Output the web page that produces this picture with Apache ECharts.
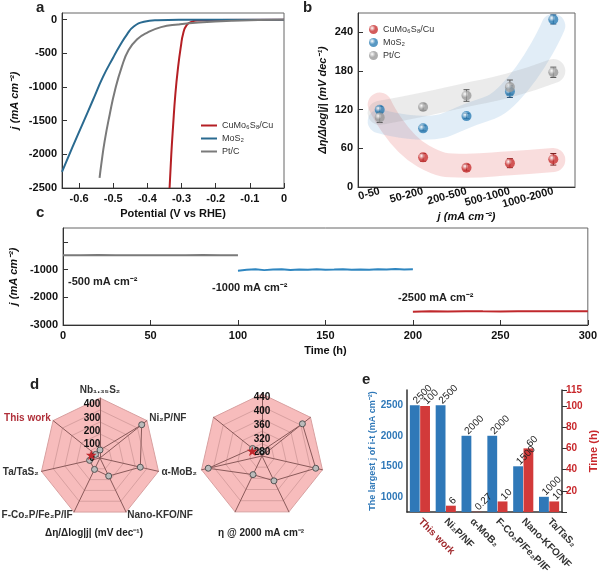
<!DOCTYPE html>
<html><head><meta charset="utf-8">
<script src="https://cdn.jsdelivr.net/npm/echarts@6/dist/echarts.min.js"></script>
<style>html,body{margin:0;background:#fff}#main{width:600px;height:576px}</style>
</head><body><div id="main"></div>
<script>
// panel a: LSV curves [potential, j]
const lsvCu = [[0,0],[-0.2,-5],[-0.25,-12],[-0.27,-30],[-0.285,-80],[-0.295,-200],[-0.302,-400],[-0.31,-700],[-0.318,-1100],[-0.325,-1600],[-0.33,-2000],[-0.335,-2500]];
const lsvMoS2 = [[0,0],[-0.3,-2],[-0.37,-8],[-0.41,-30],[-0.44,-100],[-0.46,-220],[-0.48,-380],[-0.5,-560],[-0.53,-850],[-0.56,-1200],[-0.59,-1550],[-0.62,-1900],[-0.65,-2260]];
const lsvPt = [[0,0],[-0.15,-15],[-0.25,-40],[-0.31,-70],[-0.36,-110],[-0.40,-190],[-0.43,-290],[-0.455,-450],[-0.475,-700],[-0.495,-1050],[-0.51,-1400],[-0.525,-1800],[-0.535,-2150],[-0.54,-2350]];
// panel b
const bCats = ['0-50','50-200','200-500','500-1000','1000-2000'];
const bCu = [null,46,30,37,43], bCuErr = [0,6,5,7,9];
const bMo = [120,91,110,148,260], bMoErr = [5,4,4,9,7];
const bPt = [108,124,142,155,178], bPtErr = [8,5,9,11,8];
const bandCu = [128,48,33,37,42], bandMo = [102,92,110,146,250], bandPt = [115,128,143,158,180];
// panel c: stability [time, j]
const cPt = [[0,-480],[10,-485],[20,-478],[30,-482],[40,-480],[50,-484],[60,-479],[70,-481],[80,-477],[90,-483],[100,-480]];
const cMo = [[100,-1040],[105,-1010],[110,-990],[115,-1020],[120,-1000],[125,-985],[130,-1015],[135,-995],[140,-1005],[145,-990],[150,-1010],[155,-1000],[160,-985],[165,-1005],[170,-995],[175,-1010],[180,-990],[185,-1000],[190,-980],[195,-995],[200,-985]];
const cCu = [[200,-2520],[210,-2505],[220,-2510],[230,-2500],[240,-2508],[250,-2512],[260,-2503],[270,-2506],[280,-2500],[290,-2504],[300,-2502]];
// panel d radars
const rNames = ['Nb₁.₃₅S₂','This work','Ta/TaS₂','F-Co₂P/Fe₂P/IF','Nano-KFO/NF','α-MoB₂','Ni₂P/NF'];
const r1Vals = [60,43,80,95,150,310,400];
const r2Vals = [285,305,430,330,350,430,420];
// panel e
const eCats = ['This work','Ni₂P/NF','α-MoB₂','F-Co₂P/Fe₂P/IF','Nano-KFO/NF','Ta/TaS₂'];
const eJ = [2500,2500,2000,2000,1500,1000];
const eTime = [100,6,0.27,10,60,10];

const BLUE='#2f78b8', RED='#c8282c', GRAY='#7a7a7a';
const lab = {color:'#111',fontWeight:'bold',fontSize:11,fontFamily:'Arial'};
const fmt = v=>String(v);
function errSeries(data, err, color){
  return {type:'custom',xAxisIndex:1,yAxisIndex:1,z:5,
    data:data.map((v,i)=>v==null?null:[i,v-err[i],v+err[i]]).filter(d=>d),
    renderItem:(p,api)=>{const lo=api.coord([api.value(0),api.value(1)]),hi=api.coord([api.value(0),api.value(2)]);
      return {type:'group',children:[
        {type:'line',shape:{x1:lo[0],y1:lo[1],x2:hi[0],y2:hi[1]},style:{stroke:color,lineWidth:1}},
        {type:'line',shape:{x1:lo[0]-3,y1:lo[1],x2:lo[0]+3,y2:lo[1]},style:{stroke:color,lineWidth:1}},
        {type:'line',shape:{x1:hi[0]-3,y1:hi[1],x2:hi[0]+3,y2:hi[1]},style:{stroke:color,lineWidth:1}}]};}};
}
function band(d,color){return {type:'line',xAxisIndex:1,yAxisIndex:1,data:d,smooth:true,symbol:'none',silent:true,
  lineStyle:{width:24,color:color,opacity:0.18,cap:'round'}};}
function dots(d,color,name){return {type:'scatter',name:name,xAxisIndex:1,yAxisIndex:1,data:d,symbolSize:10,z:6,
  itemStyle:{color:new echarts.graphic.RadialGradient(0.35,0.35,0.7,[{offset:0,color:'#fff'},{offset:0.5,color:color},{offset:1,color:color}])}};}
const frame={show:true,borderColor:'#666',borderWidth:1};
const axl = {onZero:false,lineStyle:{color:'#333'}};

const chart = echarts.init(document.getElementById('main'));
chart.setOption({
  animation:false,
  textStyle:{fontFamily:'Arial'},
  grid:[
    Object.assign({left:62,top:13,width:222,height:175},frame),
    Object.assign({left:358,top:13,width:217,height:174},frame),
    Object.assign({left:62,top:228,width:526,height:97},frame),
    {left:407,top:390,width:165,height:135}
  ],
  xAxis:[
    {gridIndex:0,type:'value',min:-0.65,max:0,name:'Potential (V vs RHE)',nameLocation:'middle',nameGap:20,nameTextStyle:lab,
      axisLabel:Object.assign({showMinLabel:false,margin:5},lab),axisLine:axl,axisTick:{inside:true},splitLine:{show:false}},
    {gridIndex:1,type:'category',data:bCats,boundaryGap:true,name:'j (mA cm⁻²)',nameLocation:'middle',nameGap:24,nameTextStyle:Object.assign({},lab,{fontStyle:'italic'}),
      axisLabel:Object.assign({rotate:15,margin:4,interval:0},lab),axisLine:axl,axisTick:{inside:true}},
    {gridIndex:2,type:'value',min:0,max:300,interval:50,name:'Time (h)',nameLocation:'middle',nameGap:20,nameTextStyle:lab,
      axisLabel:Object.assign({margin:5},lab),axisLine:axl,axisTick:{inside:true},splitLine:{show:false}},
    {gridIndex:3,type:'category',data:eCats,axisTick:{show:false},axisLine:{onZero:false,lineStyle:{color:'#333',width:1.5}},
      axisLabel:{interval:0,rotate:-45,margin:8,fontSize:10,fontWeight:'bold',color:'#333',align:'left',
        formatter:(v,i)=>i===0?'{r|'+v+'}':v,rich:{r:{color:'#a0282c',fontSize:10,fontWeight:'bold'}}}}
  ],
  yAxis:[
    {gridIndex:0,type:'value',min:-2500,max:100,interval:500,name:'j (mA cm⁻²)',nameLocation:'middle',nameGap:42,nameTextStyle:Object.assign({},lab,{fontStyle:'italic'}),
      axisLabel:Object.assign({showMaxLabel:false,margin:5,formatter:fmt},lab),axisLine:Object.assign({show:true},axl),axisTick:{show:true,inside:true},splitLine:{show:false}},
    {gridIndex:1,type:'value',min:0,max:270,interval:60,name:'Δη/Δlog|j| (mV dec⁻¹)',nameLocation:'middle',nameGap:30,nameTextStyle:Object.assign({},lab,{fontStyle:'italic'}),
      axisLabel:Object.assign({showMaxLabel:false,margin:5},lab),axisLine:Object.assign({show:true},axl),axisTick:{show:true,inside:true},splitLine:{show:false}},
    {gridIndex:2,type:'value',min:-3000,max:500,interval:1000,name:'j (mA cm⁻²)',nameLocation:'middle',nameGap:40,nameTextStyle:Object.assign({},lab,{fontStyle:'italic'}),
      axisLabel:Object.assign({margin:5,showMaxLabel:false,formatter:v=>v===0?'':String(v)},lab),axisLine:Object.assign({show:true},axl),axisTick:{show:true,inside:true},splitLine:{show:false}},
    {gridIndex:3,type:'value',min:750,max:2750,interval:250,name:'The largest j of i-t (mA cm⁻²)',nameLocation:'middle',nameGap:28,
      nameTextStyle:{color:BLUE,fontWeight:'bold',fontSize:9},
      axisLabel:{color:BLUE,fontWeight:'bold',fontSize:10,margin:4,formatter:v=>v%500===0?String(v):''},axisLine:{show:true,onZero:false,lineStyle:{color:'#333',width:1.5}},axisTick:{show:false},splitLine:{show:false}},
    {gridIndex:3,type:'value',position:'right',min:0,max:115,interval:20,name:'Time (h)',nameLocation:'middle',nameGap:26,
      nameTextStyle:{color:RED,fontWeight:'bold',fontSize:11},
      axisLabel:{color:RED,fontWeight:'bold',fontSize:10,margin:4,formatter:v=>v===0?'':String(v)},axisLine:{show:true,onZero:false,lineStyle:{color:'#333',width:1.5}},axisTick:{show:true},splitLine:{show:false}}
  ],
  radar:[
    {center:[100,458],radius:60,startAngle:90,splitNumber:5,shape:'polygon',
      indicator:rNames.map(n=>({name:n,min:0,max:450})),
      axisName:{color:'#333',fontSize:10,fontWeight:'bold',formatter:v=>v==='This work'?'{r|'+v+'}':v,rich:{r:{color:'#b0303a',fontWeight:'bold',fontSize:10}}},
      nameGap:3,splitArea:{areaStyle:{color:['#f7bcbc']}},splitLine:{lineStyle:{color:'#d8a0a0'}},axisLine:{lineStyle:{color:'#8a5a5a'}}},
    {center:[262,456],radius:62,startAngle:90,splitNumber:5,shape:'polygon',
      indicator:rNames.map(n=>({name:'',min:270,max:450})),
      splitArea:{areaStyle:{color:['#f7bcbc']}},splitLine:{lineStyle:{color:'#d8a0a0'}},axisLine:{lineStyle:{color:'#8a5a5a'}}}
  ],
  legend:[
    {data:['CuMo₆S₈/Cu','MoS₂','Pt/C'].map(n=>({name:n,icon:'rect'})),orient:'vertical',left:196,top:116,itemWidth:16,itemHeight:2,itemGap:4,
      textStyle:{fontSize:9,color:'#333'}},
    {data:['CuMo₆S₈/Cu ','MoS₂ ','Pt/C '],orient:'vertical',left:364,top:20,itemWidth:9,itemHeight:9,itemGap:4,textStyle:{fontSize:9,color:'#333'}}
  ],
  series:[
    {type:'line',name:'CuMo₆S₈/Cu',data:lsvCu,smooth:true,symbol:'none',lineStyle:{color:'#b51f24',width:2},itemStyle:{color:'#b51f24'}},
    {type:'line',name:'MoS₂',data:lsvMoS2,smooth:true,symbol:'none',lineStyle:{color:'#2a6a90',width:2},itemStyle:{color:'#2a6a90'}},
    {type:'line',name:'Pt/C',data:lsvPt,smooth:true,symbol:'none',lineStyle:{color:GRAY,width:2},itemStyle:{color:GRAY}},
    band(bandCu,'#e04040'),band(bandMo,'#5a9ad0'),band(bandPt,'#909090'),
    errSeries(bCu,bCuErr,'#7a2020'),errSeries(bMo,bMoErr,'#204a70'),errSeries(bPt,bPtErr,'#555'),
    dots(bCu,'#c83232','CuMo₆S₈/Cu '),dots(bMo,'#2f7fb5','MoS₂ '),dots(bPt,'#9a9a9a','Pt/C '),
    {type:'line',xAxisIndex:2,yAxisIndex:2,data:cPt,symbol:'none',lineStyle:{color:GRAY,width:2}},
    {type:'line',xAxisIndex:2,yAxisIndex:2,data:cMo,symbol:'none',lineStyle:{color:'#2f86c0',width:2}},
    {type:'line',xAxisIndex:2,yAxisIndex:2,data:cCu,symbol:'none',lineStyle:{color:'#c0282c',width:2}},
    {type:'radar',radarIndex:0,symbol:'circle',symbolSize:6,lineStyle:{color:'#8a5a5a',width:1},itemStyle:{color:'#bbb',borderColor:'#555'},
      data:[{value:r1Vals}]},
    {type:'radar',radarIndex:1,symbol:'circle',symbolSize:6,lineStyle:{color:'#8a5a5a',width:1},itemStyle:{color:'#bbb',borderColor:'#555'},
      data:[{value:r2Vals}]},
    {type:'bar',xAxisIndex:3,yAxisIndex:3,data:eJ,barWidth:'38%',barGap:'5%',itemStyle:{color:BLUE},
      label:{show:true,position:'top',rotate:45,align:'left',verticalAlign:'middle',distance:3,fontSize:10,color:'#222'}},
    {type:'bar',xAxisIndex:3,yAxisIndex:4,data:eTime,barWidth:'38%',itemStyle:{color:'#d23a3a'},
      label:{show:true,position:'top',rotate:45,align:'left',verticalAlign:'middle',distance:3,fontSize:10,color:'#222'}}
  ],
  graphic:[
    {type:'text',left:36,top:0,style:{text:'a',font:'bold 15px Arial',fill:'#222'}},
    {type:'text',left:303,top:0,style:{text:'b',font:'bold 15px Arial',fill:'#222'}},
    {type:'text',left:36,top:205,style:{text:'c',font:'bold 15px Arial',fill:'#222'}},
    {type:'text',left:30,top:377,style:{text:'d',font:'bold 15px Arial',fill:'#222'}},
    {type:'text',left:362,top:372,style:{text:'e',font:'bold 15px Arial',fill:'#222'}},
    {type:'text',left:68,top:276,style:{text:'-500 mA cm⁻²',font:'bold 11px Arial',fill:'#222'}},
    {type:'text',left:212,top:282,style:{text:'-1000 mA cm⁻²',font:'bold 11px Arial',fill:'#222'}},
    {type:'text',left:398,top:292,style:{text:'-2500 mA cm⁻²',font:'bold 11px Arial',fill:'#222'}},
    {type:'text',left:45,top:528,style:{text:'Δη/Δlog|j| (mV dec⁻¹)',font:'bold 10px Arial',fill:'#222'}},
    {type:'text',left:218,top:528,style:{text:'η @ 2000 mA cm⁻²',font:'bold 10px Arial',fill:'#222'}},
    // radar tick labels
    ...[0,100,200,300,400].map(v=>({type:'text',x:92,y:458-v/450*60,style:{text:String(v),font:'bold 10px Arial',fill:'#111',align:'center',verticalAlign:'middle'},z:10})),
    ...[280,320,360,400,440].map(v=>({type:'text',x:262,y:456-(v-270)/180*62,style:{text:String(v),font:'bold 10px Arial',fill:'#111',align:'center',verticalAlign:'middle'},z:10})),
    {type:'text',x:91,y:456,style:{text:'★',font:'14px Arial',fill:'#c0282c',align:'center',verticalAlign:'middle'},z:11},
    {type:'text',x:252,y:452,style:{text:'★',font:'14px Arial',fill:'#c0282c',align:'center',verticalAlign:'middle'},z:11}
  ]
});
</script></body></html>
